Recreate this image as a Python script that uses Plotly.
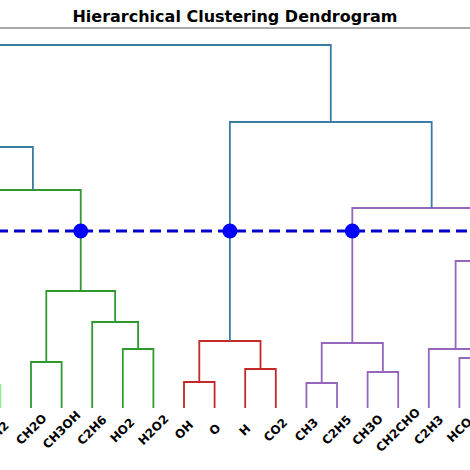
import plotly.graph_objects as go

leaf_names = ["P4", "P3", "P2", "H2", "CH2O", "CH3OH", "C2H6", "HO2", "H2O2",
              "OH", "O", "H", "CO2", "CH3", "C2H5", "CH3O", "CH2CHO", "C2H3", "HCO",
              "Q1", "Q2", "Q3", "Q4"]
leaf_index = [-4, -3, -2, -1, 0, 1, 2, 3, 4, 5, 6, 7, 8, 9, 10, 11, 12, 13, 14, 15, 16, 17, 18]
# merges: (new node, left, right, height, color)
BLUE = "#3a7ca5"; GREEN = "#2e9a2e"; LGREEN = "#90ee90"; RED = "#c62828"; PURPLE = "#9467bd"
merges = [
    ("lg", "P2", "H2", 23, LGREEN),
    ("g1", "CH2O", "CH3OH", 46, GREEN),
    ("g2", "HO2", "H2O2", 59, GREEN),
    ("g3", "C2H6", "g2", 86, GREEN),
    ("g4", "g1", "g3", 117, GREEN),
    ("g5", "lg", "g4", 218, GREEN),
    ("b1", "P4", "g5", 261, BLUE),
    ("r1", "OH", "O", 26, RED),
    ("r2", "H", "CO2", 39, RED),
    ("r3", "r1", "r2", 67, RED),
    ("p1", "CH3", "C2H5", 25, PURPLE),
    ("p2", "CH3O", "CH2CHO", 36, PURPLE),
    ("p3", "p1", "p2", 65, PURPLE),
    ("q1", "Q1", "Q2", 30, PURPLE),
    ("p4", "HCO", "q1", 50, PURPLE),
    ("p5", "C2H3", "p4", 59, PURPLE),
    ("p7", "Q3", "Q4", 35, PURPLE),
    ("p8", "p5", "p7", 147, PURPLE),
    ("p9", "p3", "p8", 200, PURPLE),
    ("b2", "r3", "p9", 286, BLUE),
    ("b3", "b1", "b2", 363, BLUE),
]
threshold = 177
cut_nodes = ["g4", "r3", "p3"]

pos = {n: (i, 0) for n, i in zip(leaf_names, leaf_index)}
fig = go.Figure()
for node, a, b, h, col in merges:
    xa, ha = pos[a]; xb, hb = pos[b]
    fig.add_trace(go.Scatter(x=[xa, xa, xb, xb], y=[ha, h, h, hb], mode="lines",
                             line=dict(color=col, width=1.8), showlegend=False, hoverinfo="skip"))
    pos[node] = ((xa + xb) / 2, h)

fig.add_trace(go.Scatter(x=[-5, 20], y=[threshold, threshold], mode="lines",
                         line=dict(color="#0000cc", width=3, dash="11px,6px"), showlegend=False))
fig.add_trace(go.Scatter(x=[pos[n][0] for n in cut_nodes], y=[threshold] * len(cut_nodes),
                         mode="markers", marker=dict(color="#0000ff", size=15), showlegend=False))

vis = [(n, i) for n, i in zip(leaf_names, leaf_index) if -1 <= i <= 14]
for n, i in vis:
    fig.add_annotation(x=i, y=-22 / 380, xref="x", yref="paper", text="<b>%s</b>" % n,
                       textangle=-45, showarrow=False, xanchor="center", yanchor="middle",
                       font=dict(family="DejaVu Sans", size=12, color="black"))

fig.update_layout(
    width=470, height=470, margin=dict(l=0, r=0, t=28, b=62, autoexpand=False),
    plot_bgcolor="white", paper_bgcolor="white",
    title=dict(text="<b>Hierarchical Clustering Dendrogram</b>", x=0.5, y=0.966,
               xanchor="center", yanchor="middle", automargin=False,
               font=dict(family="DejaVu Sans", size=16, color="black")),
    xaxis=dict(range=[-1.013, 14.346], showticklabels=False, automargin=False,
               showgrid=False, zeroline=False, showline=False, ticks=""),
    yaxis=dict(range=[0, 380], visible=False, showgrid=False, automargin=False),
    shapes=[dict(type="line", xref="paper", yref="paper", x0=0, x1=1, y0=1, y1=1,
                 line=dict(color="#555555", width=1.2))],
)
fig.write_html("out.html", config={"displayModeBar": False},
               post_script="document.body.style.margin='0';document.body.style.overflow='hidden';")
